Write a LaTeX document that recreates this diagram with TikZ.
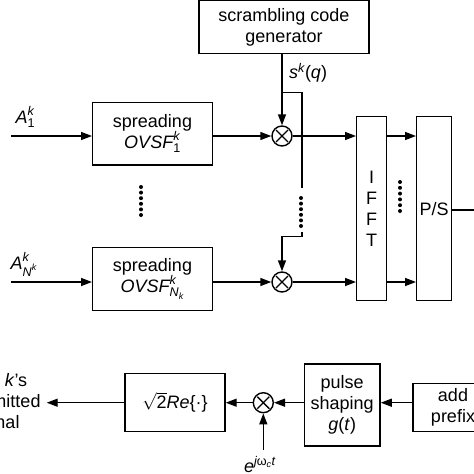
\documentclass[tikz,border=0pt]{standalone}
\usepackage{amsmath}
\usepackage{fontspec}
\setmainfont{Liberation Sans}
\usetikzlibrary{arrows.meta}
\begin{document}
\begin{tikzpicture}[x=1pt,y=-1pt,line width=1.4pt,
  every node/.style={font=\fontsize{18}{21}\selectfont},
  box/.style={draw,align=center,inner sep=0pt},
  lbl/.style={inner sep=0pt},
  arr/.style={-{Triangle[length=11pt,width=8pt]}},
  mult/.style={circle,draw,minimum size=20pt,inner sep=0pt,
    path picture={\draw ([shift={(-6pt,-6pt)}]path picture bounding box.center) -- ([shift={(6pt,6pt)}]path picture bounding box.center);
                  \draw ([shift={(-6pt,6pt)}]path picture bounding box.center) -- ([shift={(6pt,-6pt)}]path picture bounding box.center);}}]
\useasboundingbox (0,0) rectangle (474,474);
\clip (0,0) rectangle (474,474);
% blocks
\node[box,minimum width=170pt,minimum height=52.5pt] (scr) at (284,27) {scrambling code\\generator};
\node[box,minimum width=119.6pt,minimum height=62.3pt] (sp1) at (152.5,133.8) {spreading\\$\textit{OVSF}^{\textit{k}}_{\textrm{1}}$};
\node[box,minimum width=119.6pt,minimum height=63.4pt] (sp2) at (152.5,279) {spreading\\$\textit{OVSF}^{\textit{k}}_{\textit{N}_{\textit{k}}}$};
\node[mult] (m1) at (282,136) {};
\node[mult] (m2) at (282,282) {};
\node[box,minimum width=30pt,minimum height=184pt] (ifft) at (371.7,208.7) {I\\F\\F\\T};
\node[box,minimum width=35pt,minimum height=184pt] (ps) at (434.2,208.7) {P/S};
\node[box,minimum width=80pt,minimum height=48.4pt] (pre) at (453,407.5) {add\\prefix};
\node[box,minimum width=75.7pt,minimum height=82pt] (pul) at (342.2,405) {pulse\\shaping\\\textit{g}(\textit{t})};
\node[mult] (m3) at (263.3,402.7) {};
\node[box,minimum width=100pt,minimum height=58.4pt] (re) at (175,402.5) {$\sqrt{\textrm{2}}\textit{Re}$\{·\}};
% labels
\node[lbl,anchor=base west] (a1) at (15,123.3) {$\textit{A}^{\textit{k}}_{\textrm{1}}$};
\node[lbl,anchor=base west] (a2) at (10,269) {$\textit{A}^{\textit{k}}_{\textit{N}^{\textit{k}}}$};
\node[lbl,anchor=base west] (sq) at (288.5,78.3) {\textit{s}$^{\textit{k}}$(\textit{q})};
\node[lbl,anchor=base west] (ej) at (243.3,472) {$\textit{e}^{\textit{j}\text{ω}_{\textit{c}}\textit{t}}$};
\node[lbl,align=center] (outtxt) at (-4,402.7) {user \textit{k}'s\\transmitted\\signal};
% coordinates
\coordinate (in1) at (11,136);
\coordinate (in2) at (11,282);
\coordinate (br) at (282,92.7);
\coordinate (b1) at (302,92.7);
\coordinate (b2) at (302,188);
\coordinate (b3) at (302,232);
\coordinate (b4) at (302,236.7);
\coordinate (b5) at (282,236.7);
\coordinate (psout) at (480,210);
\coordinate (out) at (46.7,402.7);
\coordinate (ein) at (263.3,450);
% connectors
\draw[arr] (in1) -- (in1 -| sp1.west);
\draw[arr] (in2) -- (in2 -| sp2.west);
\draw[arr] (sp1.east |- m1) -- (m1);
\draw[arr] (sp2.east |- m2) -- (m2);
\draw[arr] (scr.south -| m1) -- (m1);
\draw (br) -- (b1) -- (b2);
\draw[arr] (b3) -- (b4) -- (b5) -- (m2);
\draw[arr] (m1) -- (m1 -| ifft.west);
\draw[arr] (m2) -- (m2 -| ifft.west);
\draw[arr] (ifft.east |- m1) -- (ps.west |- m1);
\draw[arr] (ifft.east |- m2) -- (ps.west |- m2);
\draw (ps.east |- psout) -- (psout);
\draw[arr] (pre.west |- m3) -- (pul.east |- m3);
\draw[arr] (pul.west |- m3) -- (m3);
\draw[arr] (m3) -- (re.east |- m3);
\draw[arr] (re.west |- m3) -- (out);
\draw[arr] (ein) -- (m3);
% dots
\foreach \i in {0,...,5} {
  \fill (141,187+5.6*\i) circle (2pt);
  \fill (301,198+5.6*\i) circle (2pt);
  \fill (400,182+5.8*\i) circle (2pt);
}
\end{tikzpicture}
\end{document}
